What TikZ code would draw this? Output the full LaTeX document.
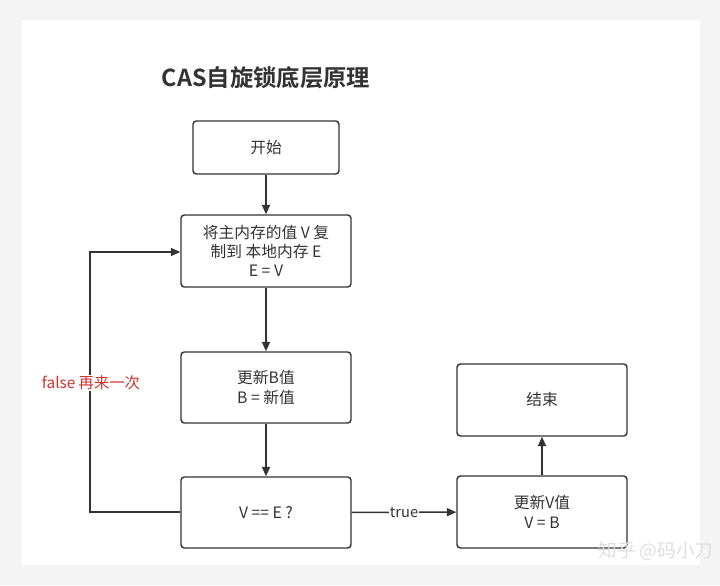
\documentclass[tikz,border=0pt]{standalone}
\usepackage{fontspec}
\setmainfont{Noto Sans CJK SC}[BoldFont={* Bold}]
\usetikzlibrary{arrows.meta}
\definecolor{bg}{HTML}{F4F4F4}
\definecolor{ln}{HTML}{333333}
\definecolor{rd}{HTML}{D0312D}
\begin{document}
\begin{tikzpicture}[x=0.75pt,y=-0.75pt,
  box/.style={draw=ln,line width=1.1pt,rounded corners=2.5pt,fill=white,align=center,font=\fontsize{11.8}{14.5}\selectfont,text=ln,inner sep=0pt},
  arr/.style={draw=ln,line width=1.1pt,-{Triangle[length=7pt,width=6pt]}}]
\fill[bg] (0,0) rectangle (720,585);
\fill[white] (22,20) rectangle (700,565);
\node[font=\fontsize{17.5}{20}\selectfont\bfseries,text=ln] (t) at (266,78) {CAS自旋锁底层原理};
\node[box,minimum width=146*0.75pt,minimum height=53*0.75pt] (s) at (266,147.5) {开始};
\node[box,minimum width=170*0.75pt,minimum height=72*0.75pt] (c) at (266,251) {将主内存的值 V 复\\制到 本地内存 E\\E = V};
\node[box,minimum width=170*0.75pt,minimum height=71*0.75pt] (b) at (266,387.5) {更新B值\\B = 新值};
\node[box,minimum width=170*0.75pt,minimum height=71*0.75pt] (q) at (266,512.5) {V == E ?};
\node[box,minimum width=170*0.75pt,minimum height=72*0.75pt] (v) at (542,512) {更新V值\\V = B};
\node[box,minimum width=170*0.75pt,minimum height=72*0.75pt] (e) at (542,400) {结束};
\draw[arr] (s) -- (c);
\draw[arr] (c) -- (b);
\draw[arr] (b) -- (q);
\draw[arr] (q) -- node[fill=white,inner sep=1pt,font=\fontsize{11}{12}\selectfont,text=ln]{true} (v);
\draw[arr] (v) -- (e);
\coordinate (l1) at (90,512);
\coordinate (l2) at (90,252);
\draw[arr] (q.west|-l1) -- (l1) -- (l2) -- (c.west|-l2);
\node[fill=white,inner sep=1pt,font=\fontsize{11.5}{13}\selectfont,text=rd] (f) at (91,383) {false 再来一次};
\node[font=\fontsize{14}{15}\selectfont,text=white!75!gray] (w) at (656,551) {知乎 @码小刀};
\end{tikzpicture}
\end{document}
